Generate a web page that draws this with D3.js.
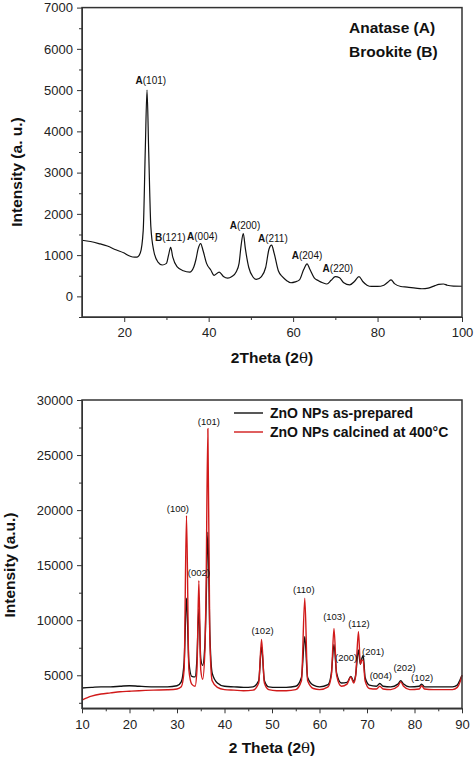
<!DOCTYPE html>
<html lang="en">
<head>
<meta charset="utf-8">
<title>XRD patterns</title>
<script src="https://cdn.jsdelivr.net/npm/d3@7"></script>
<style>
  body { margin: 0; background: #fff; }
  svg { display: block; font-family: "Liberation Sans", Arial, sans-serif; }
  .tick text { font-size: 13px; fill: #222; }
  .tick line, .domain { stroke: #333; }
</style>
</head>
<body>
<script>
// ---- top panel (TiO2) ----
var tioX = [10, 12, 14, 16, 18, 20, 21, 22, 23, 23.8, 24.5, 25, 25.4, 25.8, 26.3, 27, 28, 29, 30, 30.5, 31, 31.5, 32.5, 34, 35.5, 36.5, 37, 37.5, 38.1, 38.7, 39.5, 40.5, 41.3, 42.5, 43.5, 44.5, 45.5, 46.5, 47.2, 47.7, 48.2, 48.7, 49.5, 50.5, 51.3, 52.5, 53.5, 54.3, 54.9, 55.5, 56.5, 57.5, 58.5, 59.5, 60.5, 61.5, 62.5, 63.3, 64, 65, 66, 67, 68, 69, 70, 71, 72, 73.4, 74.5, 75.6, 76.5, 77.5, 78.6, 80, 81.5, 82.5, 83.2, 84, 85.5, 87, 89, 90.5, 92, 93.6, 94.5, 95.6, 96.5, 98, 100];
var tioY = [1360, 1330, 1280, 1220, 1130, 1050, 990, 955, 950, 1050, 1600, 3600, 5000, 3500, 1700, 1100, 830, 760, 800, 1000, 1190, 950, 720, 620, 590, 720, 900, 1150, 1280, 1100, 800, 640, 510, 590, 480, 440, 480, 590, 800, 1250, 1520, 1150, 700, 470, 410, 480, 700, 1150, 1240, 1050, 620, 470, 380, 330, 350, 400, 650, 790, 650, 450, 380, 330, 300, 390, 480, 450, 330, 280, 360, 480, 360, 270, 240, 240, 270, 350, 400, 310, 240, 225, 200, 185, 200, 260, 290, 300, 270, 250, 245];
var tioXTicks = [20, 40, 60, 80, 100];
var tioXMinor = [30, 50, 70, 90];
var tioYTicks = [0, 1000, 2000, 3000, 4000, 5000, 6000, 7000];
var tioYMinor = [-500, 500, 1500, 2500, 3500, 4500, 5500, 6500];
// peak labels: [phase, hkl, 2theta, intensity] (baseline centre)
var tioLabels = [
  ["A", "(101)", 26.3, 5160],
  ["B", "(121)", 30.9, 1340],
  ["A", "(004)", 38.5, 1360],
  ["A", "(200)", 48.6, 1640],
  ["A", "(211)", 55.2, 1320],
  ["A", "(204)", 63.3, 915],
  ["A", "(220)", 70.6, 590]
];
var tioLegend = ["Anatase (A)", "Brookite (B)"];

// ---- bottom panel (ZnO) ----
var znoX = [10, 12, 14, 16, 18, 20, 22, 25, 28, 30, 30.9, 31.5, 32.0, 32.5, 33.1, 33.8, 34.2, 34.6, 35.0, 35.4, 35.9, 36.1, 36.5, 36.9, 37.4, 38.5, 40, 42, 44, 46, 47.2, 47.8, 48.4, 49.3, 51, 53, 55, 56.2, 56.9, 57.5, 58.7, 60, 61.8, 62.5, 63.05, 63.6, 64.6, 65.8, 66.6, 67.2, 67.6, 68.2, 68.6, 68.9, 69.2, 69.6, 70.5, 72, 72.7, 73.4, 75, 76.5, 77.1, 77.7, 79, 81, 81.5, 82.1, 84, 86, 88, 89, 89.6, 90];
var znoBlack = [3850, 3900, 3950, 3950, 4000, 4050, 4000, 3950, 3950, 4050, 4400, 6200, 12000, 6200, 4900, 4850, 6500, 11000, 6500, 5900, 8000, 11000, 18000, 9000, 5200, 4300, 4000, 3950, 3900, 3950, 4500, 7600, 4500, 3950, 3900, 3900, 4000, 4800, 8500, 4800, 4100, 3950, 4150, 5200, 7800, 5200, 4300, 4350, 4900, 4450, 5000, 7300, 6000, 6500, 6800, 4800, 4100, 4000, 4250, 4000, 3950, 4200, 4500, 4200, 3950, 4000, 4200, 3950, 3950, 3950, 3950, 4100, 4600, 5000];
var znoRed = [2750, 3100, 3300, 3400, 3500, 3550, 3600, 3650, 3680, 3750, 3950, 5500, 19500, 5500, 4200, 4000, 5500, 13600, 5500, 4640, 7500, 12000, 27400, 8500, 4500, 3900, 3700, 3650, 3600, 3650, 4300, 8250, 4300, 3700, 3600, 3600, 3700, 4500, 12000, 4500, 3800, 3700, 3950, 5000, 9250, 5000, 4000, 4200, 4850, 4300, 4900, 8950, 6000, 6400, 6300, 4500, 3800, 3750, 4000, 3750, 3700, 4000, 4400, 4000, 3700, 3750, 4050, 3750, 3700, 3700, 3700, 3900, 4400, 5000];
var znoXTicks = [10, 20, 30, 40, 50, 60, 70, 80, 90];
var znoXMinor = [15, 25, 35, 45, 55, 65, 75, 85];
var znoYTicks = [5000, 10000, 15000, 20000, 25000, 30000];
var znoYMinor = [2500, 7500, 12500, 17500, 22500, 27500];
var znoLabels = [
  ["(101)", 36.7, 27730],
  ["(100)", 30.2, 19850],
  ["(002)", 34.6, 14000],
  ["(110)", 56.7, 12480],
  ["(102)", 48.0, 8790],
  ["(103)", 63.1, 10000],
  ["(112)", 68.3, 9340],
  ["(200)", 65.6, 6300],
  ["(201)", 71.3, 6880],
  ["(004)", 72.9, 4700],
  ["(202)", 77.9, 5390],
  ["(102)", 81.6, 4480]
];
var znoSeries = ["ZnO NPs as-prepared", "ZnO NPs calcined at 400°C"];
var znoColors = ["#111111", "#d11a1a"];

var w = 474, h = 760;
var svg = d3.select("body").append("svg").attr("width", w).attr("height", h);

function drawAxes(x, y, xt, xm, yt, ym, top, bottom) {
  var left = x.range()[0], right = x.range()[1];
  svg.append("g").attr("transform", "translate(0," + bottom + ")")
     .call(d3.axisBottom(x).tickValues(xt).tickSize(5).tickSizeOuter(0).tickPadding(6).tickFormat(d3.format("d")));
  svg.append("g").attr("transform", "translate(0," + bottom + ")")
     .call(d3.axisBottom(x).tickValues(xm).tickSize(3).tickSizeOuter(0).tickFormat(""));
  svg.append("g").attr("transform", "translate(" + left + ",0)")
     .call(d3.axisLeft(y).tickValues(yt).tickSize(5).tickSizeOuter(0).tickPadding(4).tickFormat(d3.format("d")));
  svg.append("g").attr("transform", "translate(" + left + ",0)")
     .call(d3.axisLeft(y).tickValues(ym).tickSize(3).tickSizeOuter(0).tickFormat(""));
  svg.append("rect")
     .attr("x", left).attr("y", top)
     .attr("width", right - left).attr("height", bottom - top)
     .attr("fill", "none").attr("stroke", "#333").attr("stroke-width", 1.5);
}

function axisTitle(xPos, yPos, rotate) {
  var t = svg.append("text")
     .attr("text-anchor", "middle")
     .attr("font-size", "15.5px").attr("font-weight", "bold").attr("fill", "#111");
  if (rotate) {
    t.attr("transform", "translate(" + xPos + "," + yPos + ") rotate(-90)");
  } else {
    t.attr("x", xPos).attr("y", yPos);
  }
  return t;
}

// ===== top chart =====
var x1 = d3.scaleLinear().domain([10, 100]).range([82, 462]);
var y1 = d3.scaleLinear().domain([-500, 7000]).range([317, 7.6]);

svg.append("path")
   .datum(d3.range(tioX.length))
   .attr("fill", "none").attr("stroke", "#111").attr("stroke-width", 1.2)
   .attr("d", d3.line().curve(d3.curveMonotoneX)
     .x(function(i) { return x1(tioX[i]); })
     .y(function(i) { return y1(tioY[i]); }));

drawAxes(x1, y1, tioXTicks, tioXMinor, tioYTicks, tioYMinor, 7.6, 317);

svg.selectAll("text.tlab")
   .data(tioLabels)
   .enter()
   .append("text")
   .attr("class", "tlab")
   .attr("x", function(d) { return x1(d[2]); })
   .attr("y", function(d) { return y1(d[3]); })
   .attr("text-anchor", "middle")
   .attr("font-size", "10px").attr("fill", "#111")
   .each(function(d) {
     d3.select(this).append("tspan").attr("font-weight", "bold").text(d[0]);
     d3.select(this).append("tspan").text(d[1]);
   });

svg.selectAll("text.tleg")
   .data(tioLegend)
   .enter()
   .append("text")
   .attr("class", "tleg")
   .attr("x", 349)
   .attr("y", function(d, i) { return 33 + i * 23.5; })
   .attr("font-size", "15.5px").attr("font-weight", "bold").attr("fill", "#111")
   .text(function(d) { return d; });

var t1 = axisTitle(272, 363, false);
t1.append("tspan").text("2Theta (2");
t1.append("tspan").attr("font-weight", "normal").attr("font-family", "'DejaVu Serif', serif").attr("font-size", "15px").text("θ");
t1.append("tspan").text(")");
axisTitle(22, 172, true).text("Intensity (a. u.)");

// ===== bottom chart =====
var x2 = d3.scaleLinear().domain([10, 90]).range([82, 462]);
var y2 = d3.scaleLinear().domain([2000, 30000]).range([708.3, 400]);

[znoBlack, znoRed].forEach(function(vals, k) {
  svg.append("path")
     .datum(d3.range(znoX.length))
     .attr("fill", "none").attr("stroke", znoColors[k]).attr("stroke-width", 1.4)
     .attr("d", d3.line().curve(d3.curveMonotoneX)
       .x(function(i) { return x2(znoX[i]); })
       .y(function(i) { return y2(vals[i]); }));
});

drawAxes(x2, y2, znoXTicks, znoXMinor, znoYTicks, znoYMinor, 400, 708.3);

svg.selectAll("text.zlab")
   .data(znoLabels)
   .enter()
   .append("text")
   .attr("class", "zlab")
   .attr("x", function(d) { return x2(d[1]); })
   .attr("y", function(d) { return y2(d[2]); })
   .attr("text-anchor", "middle")
   .attr("font-size", "9.5px").attr("fill", "#111")
   .text(function(d) { return d[0]; });

// legend
var leg = svg.selectAll("g.zleg")
   .data(znoSeries)
   .enter()
   .append("g")
   .attr("class", "zleg")
   .attr("transform", function(d, i) { return "translate(234," + (413 + i * 19) + ")"; });
leg.append("line")
   .attr("x1", 0).attr("x2", 29)
   .attr("stroke", function(d, i) { return znoColors[i]; })
   .attr("stroke-width", 1.4);
leg.append("text")
   .attr("x", 36).attr("y", 5)
   .attr("font-size", "14px").attr("font-weight", "bold").attr("fill", "#111")
   .text(function(d) { return d; });

var t2 = axisTitle(272, 753, false);
t2.append("tspan").text("2 Theta (2");
t2.append("tspan").attr("font-weight", "normal").attr("font-family", "'DejaVu Serif', serif").attr("font-size", "15px").text("θ");
t2.append("tspan").text(")");
axisTitle(15, 565, true).text("Intensity (a.u.)");
</script>
</body>
</html>
